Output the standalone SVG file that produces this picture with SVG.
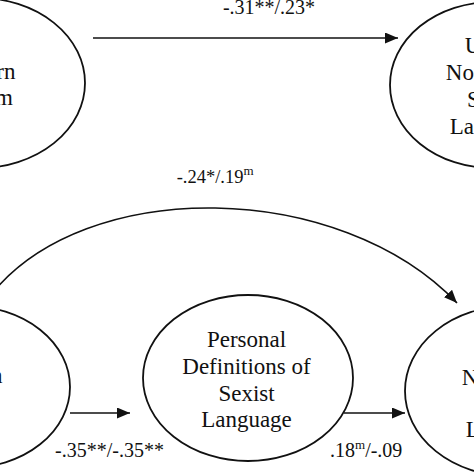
<svg xmlns="http://www.w3.org/2000/svg" width="474" height="474" viewBox="0 0 474 474">
<style>
.node{fill:none;stroke:#111;stroke-width:1.8}
.nt{font-family:"Liberation Serif","Times New Roman",serif;font-size:23px;fill:#111;text-anchor:middle}
.lbl{font-family:"Liberation Serif","Times New Roman",serif;font-size:20px;fill:#111}
.sup{font-size:13px}
.edge{fill:none;stroke:#111;stroke-width:1.6;marker-end:url(#ah)}
</style>
<defs>
<marker id="ah" viewBox="0 0 13 11" refX="13" refY="5.5" markerWidth="13" markerHeight="11" markerUnits="userSpaceOnUse" orient="auto">
<path d="M0,0 L13,5.5 L0,11 z" fill="#111"/>
</marker>
</defs>
<rect width="474" height="474" fill="#fff"/>
<g id="n1">
<ellipse class="node" cx="-21" cy="83" rx="106" ry="85"/>
<text class="nt" x="-21" y="78.5">Modern</text>
<text class="nt" x="-21" y="105.2">Sexism</text>
</g>
<g id="n2">
<ellipse class="node" cx="492" cy="85" rx="102" ry="83"/>
<text class="nt" x="495" y="53">Use of</text>
<text class="nt" x="495" y="80">Nonsexist/</text>
<text class="nt" x="495" y="107">Sexist</text>
<text class="nt" x="495" y="134">Language</text>
</g>
<g id="n3">
<ellipse class="node" cx="-32" cy="387" rx="102" ry="81"/>
<text class="nt" x="-34" y="383">Modern</text>
<text class="nt" x="-34" y="410">Sexism</text>
</g>
<g id="n4">
<ellipse class="node" cx="248" cy="378" rx="105" ry="83"/>
<text class="nt" x="246.5" y="346.7">Personal</text>
<text class="nt" x="246.5" y="373.7">Definitions of</text>
<text class="nt" x="246.5" y="400.5">Sexist</text>
<text class="nt" x="246.5" y="426.7">Language</text>
</g>
<g id="n5">
<ellipse class="node" cx="510" cy="391" rx="105" ry="85"/>
<text class="nt" x="511" y="358">Use of</text>
<text class="nt" x="511" y="385">Nonsexist/</text>
<text class="nt" x="511" y="411">Sexist</text>
<text class="nt" x="511" y="437">Language</text>
</g>
<g id="connectors">
<line class="edge" x1="93" y1="38" x2="398" y2="38"/>
<line class="edge" x1="70" y1="413" x2="130" y2="413"/>
<line class="edge" x1="344" y1="413" x2="405" y2="413"/>
<path class="edge" d="M-10,296 C85,175 340,180 457,303"/>
</g>
<g id="labels">
<text class="lbl" x="269" y="13.5" text-anchor="middle">-.31**/.23*</text>
<text class="lbl" x="176.7" y="183" style="font-size:18.5px">-.24*/.19<tspan class="sup" dy="-8">m</tspan></text>
<text class="lbl" x="55" y="456.7">-.35**/-.35**</text>
<text class="lbl" x="330" y="456.7">.18<tspan class="sup" dy="-8">m</tspan><tspan dy="8">/-.09</tspan></text>
</g>
</svg>
